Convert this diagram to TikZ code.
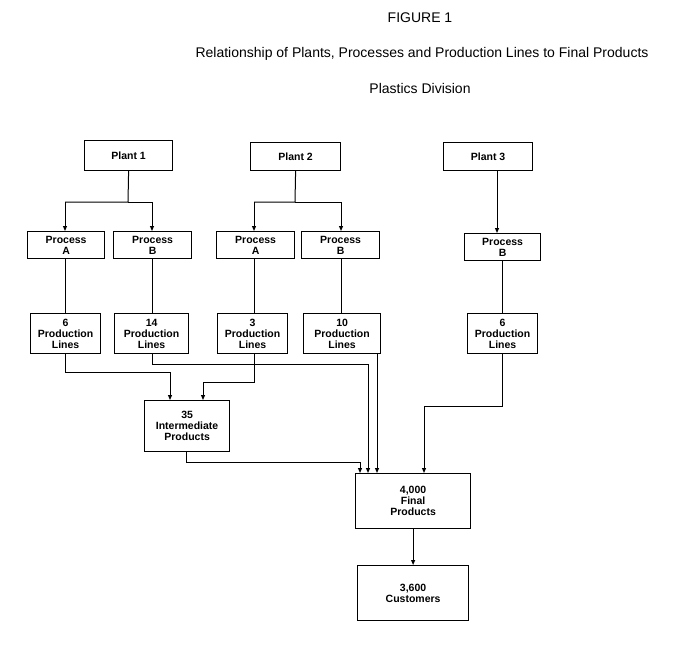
\documentclass[tikz,border=0pt]{standalone}
\usepackage{fontspec}
\setmainfont{Liberation Sans}
\usetikzlibrary{arrows.meta}
\begin{document}
\begin{tikzpicture}[x=1pt,y=-1pt,
 box/.style={draw,line width=1.2pt,anchor=north west,align=center,inner sep=0pt,font=\fontsize{10.5}{11}\selectfont\bfseries},
 ln/.style={line width=1pt},
 ar/.style={ln,-{Triangle[length=5pt,width=4pt]}},
 ttl/.style={font=\fontsize{14}{16}\selectfont}]
\useasboundingbox (0,0) rectangle (700,671);
\node[ttl] (t1) at (420,18) {FIGURE 1};
\node[ttl] (t2) at (422,54) {Relationship of Plants, Processes and Production Lines to Final Products};
\node[ttl] (t3) at (420,88) {Plastics Division};
\newcommand{\bx}[6]{\node[box,minimum width=#4pt,minimum height=#5pt] (#1) at (#2,#3) {#6};}
\bx{p1}{84}{140}{88}{30}{Plant 1}
\bx{p2}{250}{142}{90}{28}{Plant 2}
\bx{p3}{443}{142}{89}{28}{Plant 3}
\bx{a1}{27}{231}{77}{27}{Process\\A}
\bx{b1}{113}{231}{78}{27}{Process\\B}
\bx{a2}{216}{231}{78}{27}{Process\\A}
\bx{b2}{301}{231}{78}{27}{Process\\B}
\bx{b3}{464}{233}{76}{27}{Process\\B}
\bx{l1}{30}{313}{70}{40}{6\\Production\\Lines}
\bx{l2}{114}{313}{74}{40}{14\\Production\\Lines}
\bx{l3}{217}{313}{70}{40}{3\\Production\\Lines}
\bx{l4}{303}{313}{77}{40}{10\\Production\\Lines}
\bx{l5}{467}{313}{70}{40}{6\\Production\\Lines}
\bx{im}{144}{400}{85}{51}{35\\Intermediate\\Products}
\bx{fp}{355}{473}{115}{55}{4,000\\Final\\Products}
\bx{cu}{357}{565}{111}{55}{3,600\\Customers}
\draw[ln] (p1.south) -- (128,202) -- (65,202);
\draw[ar] (65,202) -- (65,231);
\draw[ar] (128,202) -- (152,202) -- (152,231);
\draw[ln] (p2.south) -- (295,202) -- (254,202);
\draw[ar] (254,202) -- (254,231);
\draw[ar] (295,202) -- (341,202) -- (341,231);
\draw[ar] (497,170) -- (497,233);
\draw[ln] (65,258) -- (65,313);
\draw[ln] (152,258) -- (152,313);
\draw[ln] (254,258) -- (254,313);
\draw[ln] (341,258) -- (341,313);
\draw[ln] (502,260) -- (502,313);
\draw[ar] (65,353) -- (65,372) -- (170,372) -- (170,400);
\draw[ar] (254,353) -- (254,382) -- (203,382) -- (203,400);
\draw[ar] (152,353) -- (152,364) -- (368,364) -- (368,473);
\draw[ar] (377,353) -- (377,473);
\draw[ar] (186,451) -- (186,462) -- (360,462) -- (360,473);
\draw[ar] (502,353) -- (502,406) -- (424,406) -- (424,473);
\draw[ar] (fp.south) -- (cu.north);
\end{tikzpicture}
\end{document}
